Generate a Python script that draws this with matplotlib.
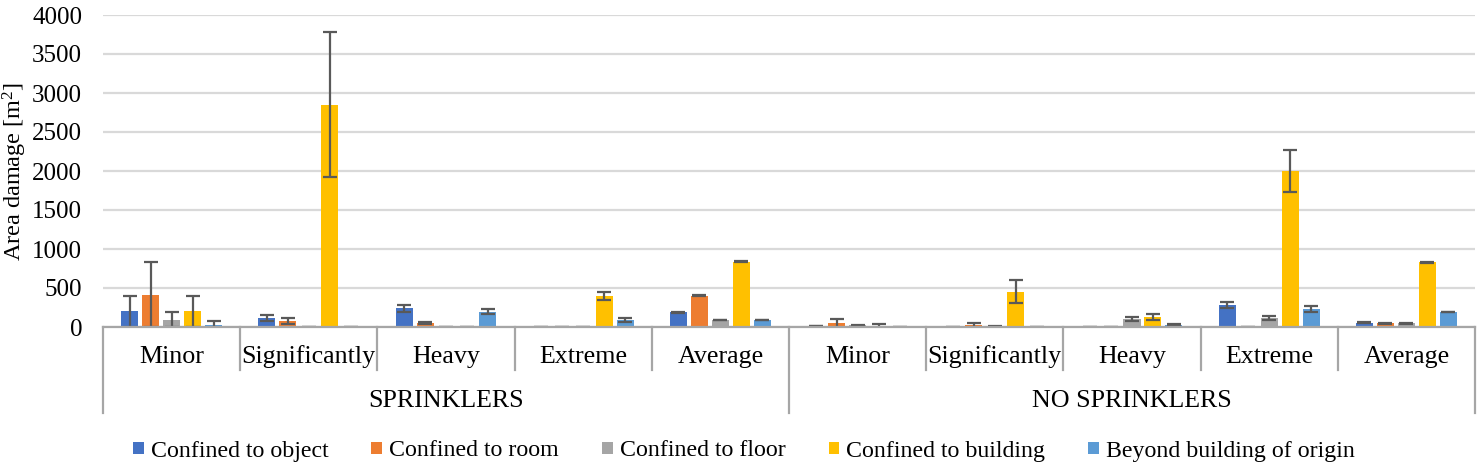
import matplotlib
matplotlib.use("Agg")
import matplotlib.pyplot as plt
from matplotlib.patches import Patch
import numpy as np

categories = ["Minor", "Significantly", "Heavy", "Extreme", "Average"]
groups = ["SPRINKLERS", "NO SPRINKLERS"]
series = ["Confined to object", "Confined to room", "Confined to floor",
          "Confined to building", "Beyond building of origin"]

obj = [200, 115, 240, 2, 190, 12, 2, 2, 280, 55]
obj_err = [200, 40, 45, 0, 5, 5, 0, 0, 42, 5]
room = [415, 75, 55, 2, 400, 45, 20, 2, 2, 45]
room_err = [415, 35, 15, 0, 5, 55, 30, 0, 0, 5]
floor = [95, 5, 2, 2, 90, 22, 10, 100, 115, 45]
floor_err = [95, 0, 0, 0, 5, 5, 5, 28, 30, 5]
building = [200, 2850, 2, 400, 835, 12, 450, 130, 2000, 830]
building_err = [200, 930, 3, 55, 5, 25, 148, 35, 270, 5]
beyond = [30, 5, 195, 88, 90, 2, 2, 25, 230, 192]
beyond_err = [50, 0, 32, 22, 5, 0, 0, 8, 38, 5]

colors = ["#4472C4", "#ED7D31", "#A5A5A5", "#FFC000", "#5B9BD5"]
values = [obj, room, floor, building, beyond]
errors = [obj_err, room_err, floor_err, building_err, beyond_err]

plt.rcParams['font.family'] = ['Liberation Serif', 'DejaVu Serif']
plt.rcParams['mathtext.fontset'] = 'custom'
plt.rcParams['mathtext.rm'] = 'Liberation Serif'
plt.rcParams['mathtext.it'] = 'Liberation Serif:italic'
FS_TICK = 18
FS_YLAB = 17.5
FS_CAT = 18.7
FS_LEG = 17.2

W, H = 1477, 466
fig = plt.figure(figsize=(W / 100, H / 100), dpi=100)
left, right, top, bottom = 103, 1475, 15, 327
ax = fig.add_axes([left / W, 1 - bottom / H, (right - left) / W, (bottom - top) / H])

n = len(obj)
x = np.arange(n)
pitch = 0.153
width = 0.124
for i, (vals, errs, c, name) in enumerate(zip(values, errors, colors, series)):
    pos = x + (i - 2) * pitch
    ax.bar(pos, vals, width=width, color=c, label=name, zorder=3)
    ax.errorbar(pos, vals, yerr=errs, fmt='none', ecolor='#595959',
                elinewidth=1.6, capsize=5, capthick=1.6, zorder=4)

ax.set_xlim(-0.5, n - 0.5)
ax.set_ylim(0, 4000)
ax.set_yticks(np.arange(0, 4001, 500))
ax.tick_params(axis='y', length=0, labelsize=FS_TICK, pad=15)
ax.tick_params(axis='x', length=0, labelbottom=False)
ax.grid(axis='y', color='#D9D9D9', linewidth=1.6, zorder=0)
ax.set_axisbelow(True)
for s in ["left", "right", "top"]:
    ax.spines[s].set_visible(False)
ax.spines["bottom"].set_color("#A6A6A6")
ax.spines["bottom"].set_linewidth(1.6)
ax.spines["bottom"].set_zorder(5)

pw = right - left
ph = bottom - top
fig.text(15 / W, 1 - 171 / H, "Area damage [m$^{2}$]", rotation=90,
         ha='center', va='center', fontsize=FS_YLAB)

def fy(py):
    return -(py - bottom) / ph

tr = ax.get_xaxis_transform()
lc = "#A6A6A6"
for k in range(n + 1):
    xb = k - 0.5
    y2 = fy(413) if k % 5 == 0 else fy(370)
    ax.plot([xb, xb], [0, y2], transform=tr, color=lc, lw=1.6, clip_on=False)
for k in range(n):
    ax.text(k, fy(357), categories[k % 5], transform=tr, ha='center', va='center',
            fontsize=FS_CAT)
for g, name in enumerate(groups):
    ax.text(g * 5 + 2, fy(401), name, transform=tr, ha='center', va='center',
            fontsize=FS_CAT)

handles = [Patch(facecolor=c, edgecolor='none') for c in colors]
fig.legend(handles, series, loc='center', bbox_to_anchor=(744 / W, 1 - 451 / H),
           ncol=5, frameon=False, fontsize=FS_LEG, handlelength=0.45, handleheight=0.45,
           handletextpad=0.3, columnspacing=1.8)

fig.savefig("out.png", dpi=100)
